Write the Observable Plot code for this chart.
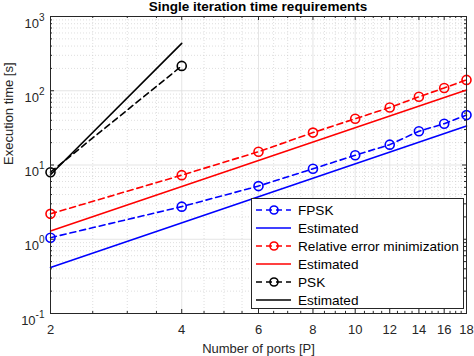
<!DOCTYPE html>
<html>
<head>
<meta charset="utf-8">
<script src="https://cdn.jsdelivr.net/npm/d3@7"></script>
<script src="https://cdn.jsdelivr.net/npm/@observablehq/plot@0.6"></script>
<style>
  html, body { margin: 0; padding: 0; background: #fff; }
  body { width: 474px; height: 356px; position: relative; overflow: hidden; font-family: "Liberation Sans", Arial, sans-serif; }
  #title { position: absolute; left: 0; top: 0; width: 474px; box-sizing: border-box; height: 14px; line-height: 13px; font-size: 13.5px; font-weight: bold; text-align: center; padding-left: 42px; color: #000; white-space: nowrap; z-index: 2; }
  #legend { position: absolute; left: 251px; top: 198px; width: 213px; height: 111px; background: #fff; border: 1px solid #262626; box-sizing: border-box; font-size: 13.6px; color: #000; }
  .row { position: absolute; left: 3px; height: 18px; display: flex; align-items: center; white-space: nowrap; }
  .row svg { display: block; margin-right: 6px; }
</style>
</head>
<body>
<div id="chart"></div>
<div id="title">Single iteration time requirements</div>
<div id="legend"></div>
<script>
// ---- data ----
const ports = [2, 4, 6, 8, 10, 12, 14, 16, 18];
const fpsk = [1.05, 2.75, 5.2, 8.9, 13.5, 18.8, 28.5, 36, 47];
const relErr = [2.2, 7.3, 15.1, 27.3, 42, 59.5, 83, 109, 140];
const estPorts = [2, 18];
const fpskEst = [0.415, 33.6];
const relErrEst = [1.29, 102];
const pskPorts = [2, 4];
const psk = [8.0, 216];
const pskEst = [7.4, 435];
const xTicks = [2, 4, 6, 8, 10, 12, 14, 16, 18];
const yDecades = [-1, 0, 1, 2, 3];
const legendItems = [
  {label: "FPSK", color: "#0000ff", dashed: true},
  {label: "Estimated", color: "#0000ff", dashed: false},
  {label: "Relative error minimization", color: "#ff0000", dashed: true},
  {label: "Estimated", color: "#ff0000", dashed: false},
  {label: "PSK", color: "#000000", dashed: true},
  {label: "Estimated", color: "#000000", dashed: false}
];

// ---- derived tables ----
const measured = [
  ...ports.map((p, i) => ({x: p, y: fpsk[i], s: "FPSK"})),
  ...ports.map((p, i) => ({x: p, y: relErr[i], s: "Rel"})),
  ...pskPorts.map((p, i) => ({x: p, y: psk[i], s: "PSK"}))
];
const estimated = [
  ...estPorts.map((p, i) => ({x: p, y: fpskEst[i], s: "FPSK"})),
  ...estPorts.map((p, i) => ({x: p, y: relErrEst[i], s: "Rel"})),
  ...pskPorts.map((p, i) => ({x: p, y: pskEst[i], s: "PSK"}))
];
const colors = {FPSK: "#0000ff", Rel: "#ff0000", PSK: "#000000"};
const minorX = d3.range(2.5, 18, 0.5).filter(v => v % 2 !== 0);
const yMajor = yDecades.map(e => Math.pow(10, e));
const yMinor = yDecades.slice(0, -1).flatMap(e => d3.range(2, 10).map(k => k * Math.pow(10, e)));

const W = 474, H = 356, mt = 16, mb = 43, ml = 50, mr = 8;
const innerH = H - mt - mb, innerW = W - ml - mr;
const axisColor = "#262626";

const chart = Plot.plot({
  width: W, height: H,
  marginTop: mt, marginBottom: mb, marginLeft: ml, marginRight: mr,
  style: {fontFamily: "'Liberation Sans', Arial, sans-serif", fontSize: "13px", color: "#262626", background: "#fff"},
  x: {type: "log", domain: [2, 18], axis: null},
  y: {type: "log", domain: [0.1, 1000], axis: null},
  marks: [
    // grids
    Plot.ruleX(minorX, {x: d => d, stroke: "#c8c8c8", strokeDasharray: "1,2", strokeWidth: 0.6}),
    Plot.ruleY(yMinor, {y: d => d, stroke: "#c8c8c8", strokeDasharray: "1,2", strokeWidth: 0.6}),
    Plot.ruleX(xTicks, {x: d => d, stroke: "#dedede", strokeWidth: 0.8}),
    Plot.ruleY(yMajor, {y: d => d, stroke: "#dedede", strokeWidth: 0.8}),
    // inward ticks
    Plot.tickX(xTicks, {x: d => d, insetTop: innerH - 4, stroke: axisColor}),
    Plot.tickX(xTicks, {x: d => d, insetBottom: innerH - 4, stroke: axisColor}),
    Plot.tickX(minorX, {x: d => d, insetTop: innerH - 2, stroke: axisColor}),
    Plot.tickX(minorX, {x: d => d, insetBottom: innerH - 2, stroke: axisColor}),
    Plot.tickY(yMajor, {y: d => d, insetRight: innerW - 4, stroke: axisColor}),
    Plot.tickY(yMajor, {y: d => d, insetLeft: innerW - 4, stroke: axisColor}),
    Plot.tickY(yMinor, {y: d => d, insetRight: innerW - 2, stroke: axisColor}),
    Plot.tickY(yMinor, {y: d => d, insetLeft: innerW - 2, stroke: axisColor}),
    // estimated lines
    Plot.line(estimated, {x: "x", y: "y", z: "s", stroke: d => colors[d.s], strokeWidth: 1.6}),
    // measured
    Plot.line(measured, {x: "x", y: "y", z: "s", stroke: d => colors[d.s], strokeWidth: 1.6, strokeDasharray: "6,4"}),
    Plot.dot(measured, {x: "x", y: "y", r: 4.5, stroke: d => colors[d.s], strokeWidth: 1.6, fill: "none"}),
    Plot.frame({stroke: axisColor, strokeWidth: 1}),
    // axes labels
    Plot.text(xTicks, {x: d => d, frameAnchor: "bottom", dy: 11, lineAnchor: "top", text: d => String(d), fill: axisColor, fontSize: 13}),
    Plot.text(yDecades, {y: e => Math.pow(10, e), frameAnchor: "left", textAnchor: "end", dx: -6, dy: 7,
      text: e => "10^" + e, fill: axisColor, fontSize: 13}),
    Plot.text(["Number of ports [P]"], {frameAnchor: "bottom", dy: 30, lineAnchor: "top", fill: axisColor, fontSize: 13}),
    Plot.text(["Execution time [s]"], {frameAnchor: "left", dx: -42, rotate: -90, fill: axisColor, fontSize: 13})
  ]
});

// superscripts on the log tick labels
chart.querySelectorAll("text").forEach(t => {
  if (!t.textContent.includes("^")) return;
  const [b, e] = t.textContent.split("^");
  t.textContent = "";
  const ns = "http://www.w3.org/2000/svg";
  const s1 = document.createElementNS(ns, "tspan"); s1.textContent = b;
  const s2 = document.createElementNS(ns, "tspan"); s2.textContent = e;
  s2.setAttribute("dy", "-7"); s2.setAttribute("font-size", "10");
  t.appendChild(s1); t.appendChild(s2);
});
document.getElementById("chart").appendChild(chart);

// legend
const leg = document.getElementById("legend");
legendItems.forEach((it, i) => {
  const row = document.createElement("div");
  row.className = "row";
  row.style.top = (2 + i * 18) + "px";
  const sw = `<svg width="37" height="12"><line x1="1" x2="36" y1="6" y2="6" stroke="${it.color}" stroke-width="1.6" ${it.dashed ? 'stroke-dasharray="6,4"' : ''}/>${it.dashed ? `<circle cx="19" cy="6" r="4" fill="none" stroke="${it.color}" stroke-width="1.6"/>` : ''}</svg>`;
  row.innerHTML = sw + `<span>${it.label}</span>`;
  leg.appendChild(row);
});
</script>
</body>
</html>
